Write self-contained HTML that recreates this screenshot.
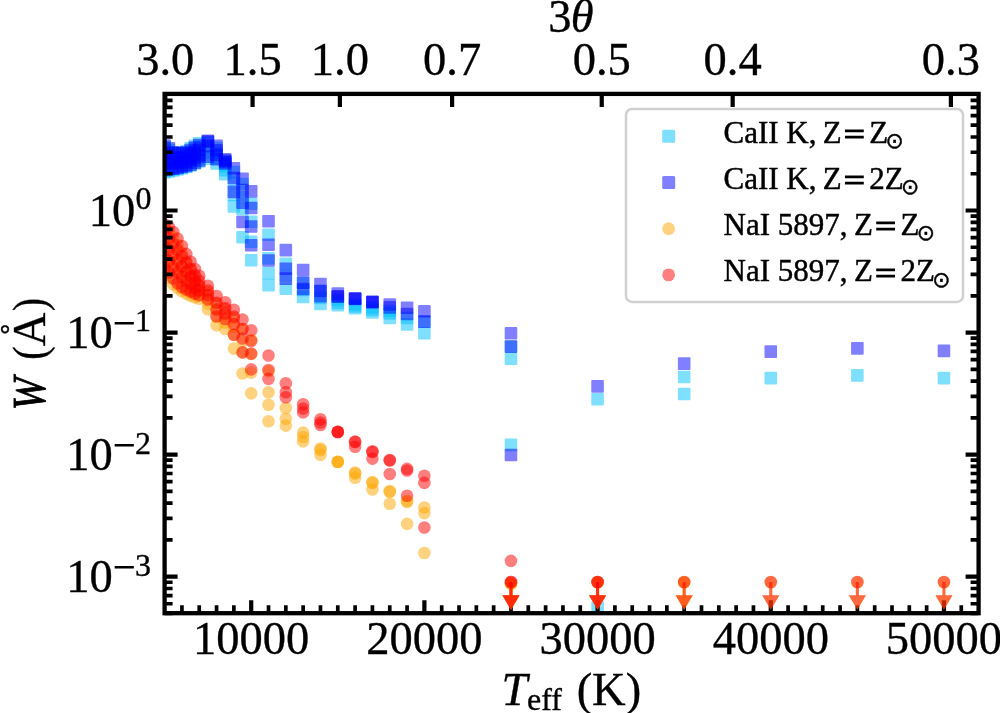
<!DOCTYPE html>
<html lang="en"><head><meta charset="utf-8"><title>Equivalent width vs effective temperature</title>
<style>html,body{margin:0;padding:0;background:#fff}body{width:1000px;height:713px;overflow:hidden}svg{display:block}</style>
</head><body>
<svg width="1000" height="713" viewBox="0 0 1000 713">
<rect x="0" y="0" width="1000" height="713" fill="#fff"/>
<defs><clipPath id="ax"><rect x="164.6" y="93.9" width="814" height="519.3"/></clipPath></defs>
<g clip-path="url(#ax)">
<g fill="rgb(0,191,255)" fill-opacity="0.5">
<rect x="158.3" y="140.7" width="12.6" height="12.6" rx="1"/>
<rect x="158.3" y="149.1" width="12.6" height="12.6" rx="1"/>
<rect x="158.3" y="157.5" width="12.6" height="12.6" rx="1"/>
<rect x="158.3" y="165.9" width="12.6" height="12.6" rx="1"/>
<rect x="162.63" y="143.7" width="12.6" height="12.6" rx="1"/>
<rect x="162.63" y="150.87" width="12.6" height="12.6" rx="1"/>
<rect x="162.63" y="158.03" width="12.6" height="12.6" rx="1"/>
<rect x="162.63" y="165.2" width="12.6" height="12.6" rx="1"/>
<rect x="166.96" y="146.7" width="12.6" height="12.6" rx="1"/>
<rect x="166.96" y="152.53" width="12.6" height="12.6" rx="1"/>
<rect x="166.96" y="158.37" width="12.6" height="12.6" rx="1"/>
<rect x="166.96" y="164.2" width="12.6" height="12.6" rx="1"/>
<rect x="171.29" y="147.2" width="12.6" height="12.6" rx="1"/>
<rect x="171.29" y="152.53" width="12.6" height="12.6" rx="1"/>
<rect x="171.29" y="157.87" width="12.6" height="12.6" rx="1"/>
<rect x="171.29" y="163.2" width="12.6" height="12.6" rx="1"/>
<rect x="175.62" y="146.7" width="12.6" height="12.6" rx="1"/>
<rect x="175.62" y="151.8" width="12.6" height="12.6" rx="1"/>
<rect x="175.62" y="156.9" width="12.6" height="12.6" rx="1"/>
<rect x="175.62" y="162" width="12.6" height="12.6" rx="1"/>
<rect x="179.95" y="145.1" width="12.6" height="12.6" rx="1"/>
<rect x="179.95" y="150.3" width="12.6" height="12.6" rx="1"/>
<rect x="179.95" y="155.5" width="12.6" height="12.6" rx="1"/>
<rect x="179.95" y="160.7" width="12.6" height="12.6" rx="1"/>
<rect x="184.28" y="142.1" width="12.6" height="12.6" rx="1"/>
<rect x="184.28" y="147.8" width="12.6" height="12.6" rx="1"/>
<rect x="184.28" y="153.5" width="12.6" height="12.6" rx="1"/>
<rect x="184.28" y="159.2" width="12.6" height="12.6" rx="1"/>
<rect x="188.61" y="139.6" width="12.6" height="12.6" rx="1"/>
<rect x="188.61" y="145.47" width="12.6" height="12.6" rx="1"/>
<rect x="188.61" y="151.33" width="12.6" height="12.6" rx="1"/>
<rect x="188.61" y="157.2" width="12.6" height="12.6" rx="1"/>
<rect x="192.94" y="137.1" width="12.6" height="12.6" rx="1"/>
<rect x="192.94" y="143.13" width="12.6" height="12.6" rx="1"/>
<rect x="192.94" y="149.17" width="12.6" height="12.6" rx="1"/>
<rect x="192.94" y="155.2" width="12.6" height="12.6" rx="1"/>
<rect x="201.6" y="135.7" width="12.6" height="12.6" rx="1"/>
<rect x="201.6" y="141.23" width="12.6" height="12.6" rx="1"/>
<rect x="201.6" y="146.77" width="12.6" height="12.6" rx="1"/>
<rect x="201.6" y="152.3" width="12.6" height="12.6" rx="1"/>
<rect x="210.26" y="141.7" width="12.6" height="12.6" rx="1"/>
<rect x="210.26" y="146.87" width="12.6" height="12.6" rx="1"/>
<rect x="210.26" y="152.03" width="12.6" height="12.6" rx="1"/>
<rect x="210.26" y="157.2" width="12.6" height="12.6" rx="1"/>
<rect x="218.92" y="155.7" width="12.6" height="12.6" rx="1"/>
<rect x="218.92" y="159.8" width="12.6" height="12.6" rx="1"/>
<rect x="218.92" y="163.9" width="12.6" height="12.6" rx="1"/>
<rect x="218.92" y="168" width="12.6" height="12.6" rx="1"/>
<rect x="227.58" y="165.7" width="12.6" height="12.6" rx="1"/>
<rect x="227.58" y="176.7" width="12.6" height="12.6" rx="1"/>
<rect x="227.58" y="188.7" width="12.6" height="12.6" rx="1"/>
<rect x="227.58" y="200.1" width="12.6" height="12.6" rx="1"/>
<rect x="236.24" y="177.7" width="12.6" height="12.6" rx="1"/>
<rect x="236.24" y="190.7" width="12.6" height="12.6" rx="1"/>
<rect x="236.24" y="202.9" width="12.6" height="12.6" rx="1"/>
<rect x="236.24" y="231" width="12.6" height="12.6" rx="1"/>
<rect x="244.9" y="197.4" width="12.6" height="12.6" rx="1"/>
<rect x="244.9" y="215.4" width="12.6" height="12.6" rx="1"/>
<rect x="244.9" y="235.5" width="12.6" height="12.6" rx="1"/>
<rect x="244.9" y="254" width="12.6" height="12.6" rx="1"/>
<rect x="262.21" y="228.4" width="12.6" height="12.6" rx="1"/>
<rect x="262.21" y="251.9" width="12.6" height="12.6" rx="1"/>
<rect x="262.21" y="266.8" width="12.6" height="12.6" rx="1"/>
<rect x="262.21" y="278.8" width="12.6" height="12.6" rx="1"/>
<rect x="279.53" y="257.6" width="12.6" height="12.6" rx="1"/>
<rect x="279.53" y="269.7" width="12.6" height="12.6" rx="1"/>
<rect x="279.53" y="282.4" width="12.6" height="12.6" rx="1"/>
<rect x="296.85" y="276.7" width="12.6" height="12.6" rx="1"/>
<rect x="296.85" y="283.7" width="12.6" height="12.6" rx="1"/>
<rect x="296.85" y="290.6" width="12.6" height="12.6" rx="1"/>
<rect x="314.17" y="284.7" width="12.6" height="12.6" rx="1"/>
<rect x="314.17" y="291.7" width="12.6" height="12.6" rx="1"/>
<rect x="314.17" y="297.6" width="12.6" height="12.6" rx="1"/>
<rect x="331.49" y="293.7" width="12.6" height="12.6" rx="1"/>
<rect x="331.49" y="296.7" width="12.6" height="12.6" rx="1"/>
<rect x="331.49" y="298.8" width="12.6" height="12.6" rx="1"/>
<rect x="348.81" y="298.2" width="12.6" height="12.6" rx="1"/>
<rect x="348.81" y="300.2" width="12.6" height="12.6" rx="1"/>
<rect x="348.81" y="302" width="12.6" height="12.6" rx="1"/>
<rect x="366.13" y="301.2" width="12.6" height="12.6" rx="1"/>
<rect x="366.13" y="303.7" width="12.6" height="12.6" rx="1"/>
<rect x="366.13" y="306.1" width="12.6" height="12.6" rx="1"/>
<rect x="383.45" y="304.7" width="12.6" height="12.6" rx="1"/>
<rect x="383.45" y="307.2" width="12.6" height="12.6" rx="1"/>
<rect x="383.45" y="311.6" width="12.6" height="12.6" rx="1"/>
<rect x="400.77" y="311.7" width="12.6" height="12.6" rx="1"/>
<rect x="400.77" y="318.1" width="12.6" height="12.6" rx="1"/>
<rect x="418.09" y="315.4" width="12.6" height="12.6" rx="1"/>
<rect x="418.09" y="327" width="12.6" height="12.6" rx="1"/>
<rect x="504.68" y="340.3" width="12.6" height="12.6" rx="1"/>
<rect x="504.68" y="352.5" width="12.6" height="12.6" rx="1"/>
<rect x="504.68" y="438.6" width="12.6" height="12.6" rx="1"/>
<rect x="591.28" y="392.9" width="12.6" height="12.6" rx="1"/>
<rect x="591.28" y="601.6" width="12.6" height="12.6" rx="1"/>
<rect x="677.87" y="370.7" width="12.6" height="12.6" rx="1"/>
<rect x="677.87" y="387.7" width="12.6" height="12.6" rx="1"/>
<rect x="764.47" y="371.8" width="12.6" height="12.6" rx="1"/>
<rect x="851.07" y="369.1" width="12.6" height="12.6" rx="1"/>
<rect x="937.66" y="371.8" width="12.6" height="12.6" rx="1"/>
</g>
<g fill="rgb(0,0,255)" fill-opacity="0.5">
<rect x="158.3" y="139.2" width="12.6" height="12.6" rx="1"/>
<rect x="158.3" y="147.13" width="12.6" height="12.6" rx="1"/>
<rect x="158.3" y="155.07" width="12.6" height="12.6" rx="1"/>
<rect x="158.3" y="163" width="12.6" height="12.6" rx="1"/>
<rect x="162.63" y="142.1" width="12.6" height="12.6" rx="1"/>
<rect x="162.63" y="148.97" width="12.6" height="12.6" rx="1"/>
<rect x="162.63" y="155.83" width="12.6" height="12.6" rx="1"/>
<rect x="162.63" y="162.7" width="12.6" height="12.6" rx="1"/>
<rect x="166.96" y="145.9" width="12.6" height="12.6" rx="1"/>
<rect x="166.96" y="151.37" width="12.6" height="12.6" rx="1"/>
<rect x="166.96" y="156.83" width="12.6" height="12.6" rx="1"/>
<rect x="166.96" y="162.3" width="12.6" height="12.6" rx="1"/>
<rect x="171.29" y="146.7" width="12.6" height="12.6" rx="1"/>
<rect x="171.29" y="151.7" width="12.6" height="12.6" rx="1"/>
<rect x="171.29" y="156.7" width="12.6" height="12.6" rx="1"/>
<rect x="171.29" y="161.7" width="12.6" height="12.6" rx="1"/>
<rect x="175.62" y="146.7" width="12.6" height="12.6" rx="1"/>
<rect x="175.62" y="151.37" width="12.6" height="12.6" rx="1"/>
<rect x="175.62" y="156.03" width="12.6" height="12.6" rx="1"/>
<rect x="175.62" y="160.7" width="12.6" height="12.6" rx="1"/>
<rect x="179.95" y="146.2" width="12.6" height="12.6" rx="1"/>
<rect x="179.95" y="150.7" width="12.6" height="12.6" rx="1"/>
<rect x="179.95" y="155.2" width="12.6" height="12.6" rx="1"/>
<rect x="179.95" y="159.7" width="12.6" height="12.6" rx="1"/>
<rect x="184.28" y="143.7" width="12.6" height="12.6" rx="1"/>
<rect x="184.28" y="148.57" width="12.6" height="12.6" rx="1"/>
<rect x="184.28" y="153.43" width="12.6" height="12.6" rx="1"/>
<rect x="184.28" y="158.3" width="12.6" height="12.6" rx="1"/>
<rect x="188.61" y="141.2" width="12.6" height="12.6" rx="1"/>
<rect x="188.61" y="146.23" width="12.6" height="12.6" rx="1"/>
<rect x="188.61" y="151.27" width="12.6" height="12.6" rx="1"/>
<rect x="188.61" y="156.3" width="12.6" height="12.6" rx="1"/>
<rect x="192.94" y="138.7" width="12.6" height="12.6" rx="1"/>
<rect x="192.94" y="143.83" width="12.6" height="12.6" rx="1"/>
<rect x="192.94" y="148.97" width="12.6" height="12.6" rx="1"/>
<rect x="192.94" y="154.1" width="12.6" height="12.6" rx="1"/>
<rect x="201.6" y="134.6" width="12.6" height="12.6" rx="1"/>
<rect x="201.6" y="135.2" width="12.6" height="12.6" rx="1"/>
<rect x="201.6" y="139.7" width="12.6" height="12.6" rx="1"/>
<rect x="201.6" y="150.4" width="12.6" height="12.6" rx="1"/>
<rect x="210.26" y="139.6" width="12.6" height="12.6" rx="1"/>
<rect x="210.26" y="144" width="12.6" height="12.6" rx="1"/>
<rect x="210.26" y="148.4" width="12.6" height="12.6" rx="1"/>
<rect x="210.26" y="152.8" width="12.6" height="12.6" rx="1"/>
<rect x="218.92" y="152.9" width="12.6" height="12.6" rx="1"/>
<rect x="218.92" y="154.33" width="12.6" height="12.6" rx="1"/>
<rect x="218.92" y="155.77" width="12.6" height="12.6" rx="1"/>
<rect x="218.92" y="157.2" width="12.6" height="12.6" rx="1"/>
<rect x="227.58" y="161.9" width="12.6" height="12.6" rx="1"/>
<rect x="227.58" y="171.7" width="12.6" height="12.6" rx="1"/>
<rect x="227.58" y="185.6" width="12.6" height="12.6" rx="1"/>
<rect x="236.24" y="172.5" width="12.6" height="12.6" rx="1"/>
<rect x="236.24" y="183.7" width="12.6" height="12.6" rx="1"/>
<rect x="236.24" y="196.3" width="12.6" height="12.6" rx="1"/>
<rect x="236.24" y="215.7" width="12.6" height="12.6" rx="1"/>
<rect x="244.9" y="185.1" width="12.6" height="12.6" rx="1"/>
<rect x="244.9" y="201.7" width="12.6" height="12.6" rx="1"/>
<rect x="244.9" y="220.2" width="12.6" height="12.6" rx="1"/>
<rect x="244.9" y="239" width="12.6" height="12.6" rx="1"/>
<rect x="262.21" y="215" width="12.6" height="12.6" rx="1"/>
<rect x="262.21" y="238.4" width="12.6" height="12.6" rx="1"/>
<rect x="262.21" y="254.2" width="12.6" height="12.6" rx="1"/>
<rect x="279.53" y="243.8" width="12.6" height="12.6" rx="1"/>
<rect x="279.53" y="262.5" width="12.6" height="12.6" rx="1"/>
<rect x="279.53" y="272.3" width="12.6" height="12.6" rx="1"/>
<rect x="296.85" y="263.7" width="12.6" height="12.6" rx="1"/>
<rect x="296.85" y="276.3" width="12.6" height="12.6" rx="1"/>
<rect x="296.85" y="282.7" width="12.6" height="12.6" rx="1"/>
<rect x="314.17" y="277.7" width="12.6" height="12.6" rx="1"/>
<rect x="314.17" y="284.7" width="12.6" height="12.6" rx="1"/>
<rect x="314.17" y="290" width="12.6" height="12.6" rx="1"/>
<rect x="331.49" y="287.2" width="12.6" height="12.6" rx="1"/>
<rect x="331.49" y="289.9" width="12.6" height="12.6" rx="1"/>
<rect x="331.49" y="290.5" width="12.6" height="12.6" rx="1"/>
<rect x="348.81" y="292" width="12.6" height="12.6" rx="1"/>
<rect x="348.81" y="292.5" width="12.6" height="12.6" rx="1"/>
<rect x="348.81" y="292.7" width="12.6" height="12.6" rx="1"/>
<rect x="366.13" y="295.4" width="12.6" height="12.6" rx="1"/>
<rect x="366.13" y="295.7" width="12.6" height="12.6" rx="1"/>
<rect x="366.13" y="296" width="12.6" height="12.6" rx="1"/>
<rect x="383.45" y="298.2" width="12.6" height="12.6" rx="1"/>
<rect x="383.45" y="301.1" width="12.6" height="12.6" rx="1"/>
<rect x="400.77" y="301.4" width="12.6" height="12.6" rx="1"/>
<rect x="400.77" y="307.7" width="12.6" height="12.6" rx="1"/>
<rect x="418.09" y="305" width="12.6" height="12.6" rx="1"/>
<rect x="418.09" y="315.3" width="12.6" height="12.6" rx="1"/>
<rect x="504.68" y="327" width="12.6" height="12.6" rx="1"/>
<rect x="504.68" y="340.3" width="12.6" height="12.6" rx="1"/>
<rect x="504.68" y="448.7" width="12.6" height="12.6" rx="1"/>
<rect x="591.28" y="380.1" width="12.6" height="12.6" rx="1"/>
<rect x="677.87" y="357.3" width="12.6" height="12.6" rx="1"/>
<rect x="764.47" y="345.3" width="12.6" height="12.6" rx="1"/>
<rect x="851.07" y="342.1" width="12.6" height="12.6" rx="1"/>
<rect x="937.66" y="344.6" width="12.6" height="12.6" rx="1"/>
</g>
<g fill="rgb(255,165,0)" fill-opacity="0.5">
<circle cx="164.6" cy="228.5" r="6.3"/>
<circle cx="164.6" cy="244" r="6.3"/>
<circle cx="164.6" cy="259.5" r="6.3"/>
<circle cx="164.6" cy="275" r="6.3"/>
<circle cx="168.93" cy="231.7" r="6.3"/>
<circle cx="168.93" cy="247.07" r="6.3"/>
<circle cx="168.93" cy="262.43" r="6.3"/>
<circle cx="168.93" cy="277.8" r="6.3"/>
<circle cx="173.26" cy="237.4" r="6.3"/>
<circle cx="173.26" cy="253.07" r="6.3"/>
<circle cx="173.26" cy="268.73" r="6.3"/>
<circle cx="173.26" cy="284.4" r="6.3"/>
<circle cx="177.59" cy="244.7" r="6.3"/>
<circle cx="177.59" cy="259.13" r="6.3"/>
<circle cx="177.59" cy="273.57" r="6.3"/>
<circle cx="177.59" cy="288" r="6.3"/>
<circle cx="181.92" cy="252.8" r="6.3"/>
<circle cx="181.92" cy="265.6" r="6.3"/>
<circle cx="181.92" cy="278.4" r="6.3"/>
<circle cx="181.92" cy="291.2" r="6.3"/>
<circle cx="186.25" cy="261.4" r="6.3"/>
<circle cx="186.25" cy="272.13" r="6.3"/>
<circle cx="186.25" cy="282.87" r="6.3"/>
<circle cx="186.25" cy="293.6" r="6.3"/>
<circle cx="190.58" cy="269.7" r="6.3"/>
<circle cx="190.58" cy="278.4" r="6.3"/>
<circle cx="190.58" cy="287.1" r="6.3"/>
<circle cx="190.58" cy="295.8" r="6.3"/>
<circle cx="194.91" cy="277.9" r="6.3"/>
<circle cx="194.91" cy="284.4" r="6.3"/>
<circle cx="194.91" cy="290.9" r="6.3"/>
<circle cx="194.91" cy="297.4" r="6.3"/>
<circle cx="199.24" cy="285.4" r="6.3"/>
<circle cx="199.24" cy="289.87" r="6.3"/>
<circle cx="199.24" cy="294.33" r="6.3"/>
<circle cx="199.24" cy="298.8" r="6.3"/>
<circle cx="207.9" cy="292" r="6.3"/>
<circle cx="207.9" cy="298" r="6.3"/>
<circle cx="207.9" cy="303.5" r="6.3"/>
<circle cx="207.9" cy="309.3" r="6.3"/>
<circle cx="216.56" cy="303" r="6.3"/>
<circle cx="216.56" cy="310" r="6.3"/>
<circle cx="216.56" cy="317" r="6.3"/>
<circle cx="216.56" cy="325.2" r="6.3"/>
<circle cx="225.22" cy="309" r="6.3"/>
<circle cx="225.22" cy="316" r="6.3"/>
<circle cx="225.22" cy="322.5" r="6.3"/>
<circle cx="225.22" cy="329" r="6.3"/>
<circle cx="233.88" cy="318" r="6.3"/>
<circle cx="233.88" cy="327" r="6.3"/>
<circle cx="233.88" cy="334.7" r="6.3"/>
<circle cx="233.88" cy="348.6" r="6.3"/>
<circle cx="242.54" cy="329" r="6.3"/>
<circle cx="242.54" cy="341" r="6.3"/>
<circle cx="242.54" cy="352.4" r="6.3"/>
<circle cx="242.54" cy="373.5" r="6.3"/>
<circle cx="251.2" cy="340" r="6.3"/>
<circle cx="251.2" cy="354" r="6.3"/>
<circle cx="251.2" cy="372.6" r="6.3"/>
<circle cx="251.2" cy="393.4" r="6.3"/>
<circle cx="268.51" cy="371.4" r="6.3"/>
<circle cx="268.51" cy="392.2" r="6.3"/>
<circle cx="268.51" cy="404.8" r="6.3"/>
<circle cx="268.51" cy="421.2" r="6.3"/>
<circle cx="285.83" cy="408" r="6.3"/>
<circle cx="285.83" cy="418.7" r="6.3"/>
<circle cx="285.83" cy="425.6" r="6.3"/>
<circle cx="303.15" cy="432.6" r="6.3"/>
<circle cx="303.15" cy="437" r="6.3"/>
<circle cx="303.15" cy="441.4" r="6.3"/>
<circle cx="320.47" cy="448.5" r="6.3"/>
<circle cx="320.47" cy="450" r="6.3"/>
<circle cx="320.47" cy="454.9" r="6.3"/>
<circle cx="337.79" cy="461.8" r="6.3"/>
<circle cx="337.79" cy="461.8" r="6.3"/>
<circle cx="337.79" cy="462" r="6.3"/>
<circle cx="355.11" cy="472.6" r="6.3"/>
<circle cx="355.11" cy="473.5" r="6.3"/>
<circle cx="355.11" cy="477.7" r="6.3"/>
<circle cx="372.43" cy="482.1" r="6.3"/>
<circle cx="372.43" cy="483" r="6.3"/>
<circle cx="372.43" cy="489.5" r="6.3"/>
<circle cx="389.75" cy="491" r="6.3"/>
<circle cx="389.75" cy="492" r="6.3"/>
<circle cx="389.75" cy="503.8" r="6.3"/>
<circle cx="407.07" cy="500.8" r="6.3"/>
<circle cx="407.07" cy="502" r="6.3"/>
<circle cx="407.07" cy="523.9" r="6.3"/>
<circle cx="424.39" cy="507.5" r="6.3"/>
<circle cx="424.39" cy="513.1" r="6.3"/>
<circle cx="424.39" cy="553" r="6.3"/>
</g>
<g fill="rgb(255,0,0)" fill-opacity="0.5">
<circle cx="164.6" cy="224.5" r="6.3"/>
<circle cx="164.6" cy="235.5" r="6.3"/>
<circle cx="164.6" cy="246.5" r="6.3"/>
<circle cx="164.6" cy="257.5" r="6.3"/>
<circle cx="164.6" cy="268.5" r="6.3"/>
<circle cx="168.93" cy="227" r="6.3"/>
<circle cx="168.93" cy="238.38" r="6.3"/>
<circle cx="168.93" cy="249.75" r="6.3"/>
<circle cx="168.93" cy="261.12" r="6.3"/>
<circle cx="168.93" cy="272.5" r="6.3"/>
<circle cx="173.26" cy="232" r="6.3"/>
<circle cx="173.26" cy="243.62" r="6.3"/>
<circle cx="173.26" cy="255.25" r="6.3"/>
<circle cx="173.26" cy="266.88" r="6.3"/>
<circle cx="173.26" cy="278.5" r="6.3"/>
<circle cx="177.59" cy="238.6" r="6.3"/>
<circle cx="177.59" cy="249.75" r="6.3"/>
<circle cx="177.59" cy="260.9" r="6.3"/>
<circle cx="177.59" cy="272.05" r="6.3"/>
<circle cx="177.59" cy="283.2" r="6.3"/>
<circle cx="181.92" cy="246" r="6.3"/>
<circle cx="181.92" cy="256.25" r="6.3"/>
<circle cx="181.92" cy="266.5" r="6.3"/>
<circle cx="181.92" cy="276.75" r="6.3"/>
<circle cx="181.92" cy="287" r="6.3"/>
<circle cx="186.25" cy="253.9" r="6.3"/>
<circle cx="186.25" cy="262.8" r="6.3"/>
<circle cx="186.25" cy="271.7" r="6.3"/>
<circle cx="186.25" cy="280.6" r="6.3"/>
<circle cx="186.25" cy="289.5" r="6.3"/>
<circle cx="190.58" cy="261.5" r="6.3"/>
<circle cx="190.58" cy="269.02" r="6.3"/>
<circle cx="190.58" cy="276.55" r="6.3"/>
<circle cx="190.58" cy="284.08" r="6.3"/>
<circle cx="190.58" cy="291.6" r="6.3"/>
<circle cx="194.91" cy="269" r="6.3"/>
<circle cx="194.91" cy="275.15" r="6.3"/>
<circle cx="194.91" cy="281.3" r="6.3"/>
<circle cx="194.91" cy="287.45" r="6.3"/>
<circle cx="194.91" cy="293.6" r="6.3"/>
<circle cx="199.24" cy="275.8" r="6.3"/>
<circle cx="199.24" cy="280.7" r="6.3"/>
<circle cx="199.24" cy="285.6" r="6.3"/>
<circle cx="199.24" cy="290.5" r="6.3"/>
<circle cx="199.24" cy="295.4" r="6.3"/>
<circle cx="207.9" cy="285.8" r="6.3"/>
<circle cx="207.9" cy="290.5" r="6.3"/>
<circle cx="207.9" cy="295" r="6.3"/>
<circle cx="207.9" cy="299.5" r="6.3"/>
<circle cx="216.56" cy="296" r="6.3"/>
<circle cx="216.56" cy="302.7" r="6.3"/>
<circle cx="216.56" cy="309.4" r="6.3"/>
<circle cx="216.56" cy="316.2" r="6.3"/>
<circle cx="225.22" cy="302.3" r="6.3"/>
<circle cx="225.22" cy="308" r="6.3"/>
<circle cx="225.22" cy="313.5" r="6.3"/>
<circle cx="225.22" cy="319" r="6.3"/>
<circle cx="233.88" cy="309.7" r="6.3"/>
<circle cx="233.88" cy="316.5" r="6.3"/>
<circle cx="233.88" cy="324" r="6.3"/>
<circle cx="233.88" cy="334.7" r="6.3"/>
<circle cx="242.54" cy="319.6" r="6.3"/>
<circle cx="242.54" cy="329" r="6.3"/>
<circle cx="242.54" cy="338.5" r="6.3"/>
<circle cx="242.54" cy="352.4" r="6.3"/>
<circle cx="251.2" cy="330.3" r="6.3"/>
<circle cx="251.2" cy="341" r="6.3"/>
<circle cx="251.2" cy="353.6" r="6.3"/>
<circle cx="251.2" cy="369.4" r="6.3"/>
<circle cx="268.51" cy="355.5" r="6.3"/>
<circle cx="268.51" cy="370" r="6.3"/>
<circle cx="268.51" cy="378.9" r="6.3"/>
<circle cx="285.83" cy="383.3" r="6.3"/>
<circle cx="285.83" cy="392.2" r="6.3"/>
<circle cx="285.83" cy="397.2" r="6.3"/>
<circle cx="303.15" cy="404.2" r="6.3"/>
<circle cx="303.15" cy="408.6" r="6.3"/>
<circle cx="303.15" cy="412.4" r="6.3"/>
<circle cx="320.47" cy="419.3" r="6.3"/>
<circle cx="320.47" cy="422.5" r="6.3"/>
<circle cx="320.47" cy="425" r="6.3"/>
<circle cx="337.79" cy="431.8" r="6.3"/>
<circle cx="337.79" cy="431.8" r="6.3"/>
<circle cx="337.79" cy="432.3" r="6.3"/>
<circle cx="355.11" cy="441.6" r="6.3"/>
<circle cx="355.11" cy="442" r="6.3"/>
<circle cx="355.11" cy="446.8" r="6.3"/>
<circle cx="372.43" cy="451.2" r="6.3"/>
<circle cx="372.43" cy="452" r="6.3"/>
<circle cx="372.43" cy="458.6" r="6.3"/>
<circle cx="389.75" cy="460" r="6.3"/>
<circle cx="389.75" cy="460.5" r="6.3"/>
<circle cx="389.75" cy="474" r="6.3"/>
<circle cx="407.07" cy="468.9" r="6.3"/>
<circle cx="407.07" cy="470.5" r="6.3"/>
<circle cx="407.07" cy="495.8" r="6.3"/>
<circle cx="424.39" cy="475.8" r="6.3"/>
<circle cx="424.39" cy="482.9" r="6.3"/>
<circle cx="424.39" cy="527.5" r="6.3"/>
<circle cx="510.98" cy="560.9" r="6.3"/>
</g>
</g>
<g stroke="#000" fill="none">
<path stroke-width="4.2" d="M251.2 613.2V600.2M424.39 613.2V600.2M597.58 613.2V600.2M770.77 613.2V600.2M943.96 613.2V600.2M165.29 93.9V106.9M252.58 93.9V106.9M339.87 93.9V106.9M452.1 93.9V106.9M601.74 93.9V106.9M732.67 93.9V106.9M950.89 93.9V106.9M164.6 576.65H177.6M978.6 576.65H965.6M164.6 454.6H177.6M978.6 454.6H965.6M164.6 332.55H177.6M978.6 332.55H965.6M164.6 210.5H177.6M978.6 210.5H965.6"/>
<path stroke-width="3.7" d="M181.92 613.2V605.2M199.24 613.2V605.2M216.56 613.2V605.2M233.88 613.2V605.2M268.51 613.2V605.2M285.83 613.2V605.2M303.15 613.2V605.2M320.47 613.2V605.2M337.79 613.2V605.2M355.11 613.2V605.2M372.43 613.2V605.2M389.75 613.2V605.2M407.07 613.2V605.2M441.71 613.2V605.2M459.03 613.2V605.2M476.34 613.2V605.2M493.66 613.2V605.2M510.98 613.2V605.2M528.3 613.2V605.2M545.62 613.2V605.2M562.94 613.2V605.2M580.26 613.2V605.2M614.9 613.2V605.2M632.22 613.2V605.2M649.54 613.2V605.2M666.86 613.2V605.2M684.17 613.2V605.2M701.49 613.2V605.2M718.81 613.2V605.2M736.13 613.2V605.2M753.45 613.2V605.2M788.09 613.2V605.2M805.41 613.2V605.2M822.73 613.2V605.2M840.05 613.2V605.2M857.37 613.2V605.2M874.69 613.2V605.2M892 613.2V605.2M909.32 613.2V605.2M926.64 613.2V605.2M961.28 613.2V605.2M164.6 613.39H172.6M978.6 613.39H970.6M164.6 603.73H172.6M978.6 603.73H970.6M164.6 595.56H172.6M978.6 595.56H970.6M164.6 588.48H172.6M978.6 588.48H970.6M164.6 582.23H172.6M978.6 582.23H970.6M164.6 539.91H172.6M978.6 539.91H970.6M164.6 518.42H172.6M978.6 518.42H970.6M164.6 503.17H172.6M978.6 503.17H970.6M164.6 491.34H172.6M978.6 491.34H970.6M164.6 481.68H172.6M978.6 481.68H970.6M164.6 473.51H172.6M978.6 473.51H970.6M164.6 466.43H172.6M978.6 466.43H970.6M164.6 460.18H172.6M978.6 460.18H970.6M164.6 417.86H172.6M978.6 417.86H970.6M164.6 396.37H172.6M978.6 396.37H970.6M164.6 381.12H172.6M978.6 381.12H970.6M164.6 369.29H172.6M978.6 369.29H970.6M164.6 359.63H172.6M978.6 359.63H970.6M164.6 351.46H172.6M978.6 351.46H970.6M164.6 344.38H172.6M978.6 344.38H970.6M164.6 338.13H172.6M978.6 338.13H970.6M164.6 295.81H172.6M978.6 295.81H970.6M164.6 274.32H172.6M978.6 274.32H970.6M164.6 259.07H172.6M978.6 259.07H970.6M164.6 247.24H172.6M978.6 247.24H970.6M164.6 237.58H172.6M978.6 237.58H970.6M164.6 229.41H172.6M978.6 229.41H970.6M164.6 222.33H172.6M978.6 222.33H970.6M164.6 216.08H172.6M978.6 216.08H970.6M164.6 173.76H172.6M978.6 173.76H970.6M164.6 152.27H172.6M978.6 152.27H970.6M164.6 137.02H172.6M978.6 137.02H970.6M164.6 125.19H172.6M978.6 125.19H970.6M164.6 115.53H172.6M978.6 115.53H970.6M164.6 107.36H172.6M978.6 107.36H970.6M164.6 100.28H172.6M978.6 100.28H970.6M164.6 94.03H172.6M978.6 94.03H970.6"/>
</g>
<g clip-path="url(#ax)">
<g fill="rgb(255,165,0)" fill-opacity="0.5" stroke="none"><circle cx="510.98" cy="583.5" r="6.3"/><rect x="509.48" y="583.5" width="3" height="12"/><path d="M502.38 595.2H519.58L510.98 609.8Z"/></g>
<g fill="rgb(255,165,0)" fill-opacity="0.5" stroke="none"><circle cx="510.98" cy="583.5" r="6.3"/><rect x="509.48" y="583.5" width="3" height="12"/><path d="M502.38 595.2H519.58L510.98 609.8Z"/></g>
<g fill="rgb(255,165,0)" fill-opacity="0.5" stroke="none"><circle cx="510.98" cy="583.5" r="6.3"/><rect x="509.48" y="583.5" width="3" height="12"/><path d="M502.38 595.2H519.58L510.98 609.8Z"/></g>
<g fill="rgb(255,0,0)" fill-opacity="0.5" stroke="none"><circle cx="510.98" cy="582" r="6.3"/><rect x="509.48" y="582" width="3" height="13.5"/><path d="M502.38 595.2H519.58L510.98 609.8Z"/></g>
<g fill="rgb(255,0,0)" fill-opacity="0.5" stroke="none"><circle cx="510.98" cy="582" r="6.3"/><rect x="509.48" y="582" width="3" height="13.5"/><path d="M502.38 595.2H519.58L510.98 609.8Z"/></g>
<g fill="rgb(255,165,0)" fill-opacity="0.5" stroke="none"><circle cx="597.58" cy="582.3" r="6.3"/><rect x="596.08" y="582.3" width="3" height="13.2"/><path d="M588.98 595.2H606.18L597.58 609.8Z"/></g>
<g fill="rgb(255,165,0)" fill-opacity="0.5" stroke="none"><circle cx="597.58" cy="582.3" r="6.3"/><rect x="596.08" y="582.3" width="3" height="13.2"/><path d="M588.98 595.2H606.18L597.58 609.8Z"/></g>
<g fill="rgb(255,0,0)" fill-opacity="0.5" stroke="none"><circle cx="597.58" cy="582" r="6.3"/><rect x="596.08" y="582" width="3" height="13.5"/><path d="M588.98 595.2H606.18L597.58 609.8Z"/></g>
<g fill="rgb(255,0,0)" fill-opacity="0.5" stroke="none"><circle cx="597.58" cy="582" r="6.3"/><rect x="596.08" y="582" width="3" height="13.5"/><path d="M588.98 595.2H606.18L597.58 609.8Z"/></g>
<g fill="rgb(255,165,0)" fill-opacity="0.5" stroke="none"><circle cx="684.17" cy="582.3" r="6.3"/><rect x="682.67" y="582.3" width="3" height="13.2"/><path d="M675.57 595.2H692.77L684.17 609.8Z"/></g>
<g fill="rgb(255,165,0)" fill-opacity="0.5" stroke="none"><circle cx="684.17" cy="582.3" r="6.3"/><rect x="682.67" y="582.3" width="3" height="13.2"/><path d="M675.57 595.2H692.77L684.17 609.8Z"/></g>
<g fill="rgb(255,0,0)" fill-opacity="0.5" stroke="none"><circle cx="684.17" cy="582" r="6.3"/><rect x="682.67" y="582" width="3" height="13.5"/><path d="M675.57 595.2H692.77L684.17 609.8Z"/></g>
<g fill="rgb(255,165,0)" fill-opacity="0.5" stroke="none"><circle cx="770.77" cy="582.3" r="6.3"/><rect x="769.27" y="582.3" width="3" height="13.2"/><path d="M762.17 595.2H779.37L770.77 609.8Z"/></g>
<g fill="rgb(255,0,0)" fill-opacity="0.5" stroke="none"><circle cx="770.77" cy="582" r="6.3"/><rect x="769.27" y="582" width="3" height="13.5"/><path d="M762.17 595.2H779.37L770.77 609.8Z"/></g>
<g fill="rgb(255,165,0)" fill-opacity="0.5" stroke="none"><circle cx="857.37" cy="582.3" r="6.3"/><rect x="855.87" y="582.3" width="3" height="13.2"/><path d="M848.77 595.2H865.97L857.37 609.8Z"/></g>
<g fill="rgb(255,0,0)" fill-opacity="0.5" stroke="none"><circle cx="857.37" cy="582" r="6.3"/><rect x="855.87" y="582" width="3" height="13.5"/><path d="M848.77 595.2H865.97L857.37 609.8Z"/></g>
<g fill="rgb(255,165,0)" fill-opacity="0.5" stroke="none"><circle cx="943.96" cy="582.3" r="6.3"/><rect x="942.46" y="582.3" width="3" height="13.2"/><path d="M935.36 595.2H952.56L943.96 609.8Z"/></g>
<g fill="rgb(255,0,0)" fill-opacity="0.5" stroke="none"><circle cx="943.96" cy="582" r="6.3"/><rect x="942.46" y="582" width="3" height="13.5"/><path d="M935.36 595.2H952.56L943.96 609.8Z"/></g>
</g>
<rect x="164.6" y="93.9" width="814" height="519.3" fill="none" stroke="#000" stroke-width="4.3"/>
<rect x="626" y="109" width="337" height="192.9" rx="6" ry="6" fill="#fff" fill-opacity="0.8" stroke="#d0d0d0" stroke-width="2.5"/>
<rect x="662.2" y="129.8" width="13" height="13" rx="1.5" fill="rgb(0,191,255)" fill-opacity="0.5"/>
<rect x="662.2" y="176" width="13" height="13" rx="1.5" fill="rgb(0,0,255)" fill-opacity="0.5"/>
<circle cx="668.6" cy="228.7" r="6.4" fill="rgb(255,165,0)" fill-opacity="0.5"/>
<circle cx="668.6" cy="274.9" r="6.4" fill="rgb(255,0,0)" fill-opacity="0.5"/>
<g font-family="'Liberation Serif', 'DejaVu Serif', serif" font-size="31" fill="#000" stroke="#000" stroke-width="0.45">
<text y="142.5" xml:space="preserve"><tspan x="723.5">CaII K, </tspan><tspan x="822.7">Z</tspan><tspan x="843.8" dy="2.4" textLength="21.2" lengthAdjust="spacingAndGlyphs" stroke-width="1.1">=</tspan><tspan x="869.2" dy="-2.4">Z</tspan><tspan x="885.5" dy="5.4" font-family="'DejaVu Sans', sans-serif" font-size="21.8">⊙</tspan></text>
<text y="188.7" xml:space="preserve"><tspan x="723.5">CaII K, </tspan><tspan x="822.7">Z</tspan><tspan x="843.8" dy="2.4" textLength="21.2" lengthAdjust="spacingAndGlyphs" stroke-width="1.1">=</tspan><tspan x="869.2" dy="-2.4">2Z</tspan><tspan x="901" dy="5.4" font-family="'DejaVu Sans', sans-serif" font-size="21.8">⊙</tspan></text>
<text y="234.9" xml:space="preserve"><tspan x="723.5">NaI 5897, </tspan><tspan x="854">Z</tspan><tspan x="875.1" dy="2.4" textLength="21.2" lengthAdjust="spacingAndGlyphs" stroke-width="1.1">=</tspan><tspan x="900.5" dy="-2.4">Z</tspan><tspan x="916.8" dy="5.4" font-family="'DejaVu Sans', sans-serif" font-size="21.8">⊙</tspan></text>
<text y="281.1" xml:space="preserve"><tspan x="723.5">NaI 5897, </tspan><tspan x="854">Z</tspan><tspan x="875.1" dy="2.4" textLength="21.2" lengthAdjust="spacingAndGlyphs" stroke-width="1.1">=</tspan><tspan x="900.5" dy="-2.4">2Z</tspan><tspan x="932.3" dy="5.4" font-family="'DejaVu Sans', sans-serif" font-size="21.8">⊙</tspan></text>
</g>
<g font-family="'Liberation Serif', 'DejaVu Serif', serif" font-size="46.5" fill="#000" stroke="#000" stroke-width="0.35">
<text x="251.2" y="654" text-anchor="middle">10000</text>
<text x="424.39" y="654" text-anchor="middle">20000</text>
<text x="597.58" y="654" text-anchor="middle">30000</text>
<text x="770.77" y="654" text-anchor="middle">40000</text>
<text x="943.96" y="654" text-anchor="middle">50000</text>
<text x="165.29" y="75.4" text-anchor="middle">3.0</text>
<text x="252.58" y="75.4" text-anchor="middle">1.5</text>
<text x="339.87" y="75.4" text-anchor="middle">1.0</text>
<text x="452.1" y="75.4" text-anchor="middle">0.7</text>
<text x="601.74" y="75.4" text-anchor="middle">0.5</text>
<text x="732.67" y="75.4" text-anchor="middle">0.4</text>
<text x="950.89" y="75.4" text-anchor="middle">0.3</text>
<text y="226.2"><tspan x="88.8">10</tspan><tspan x="135.4" dy="-16.8" font-size="32">0</tspan></text>
<text y="348.25"><tspan x="66.2">10</tspan><tspan x="113" dy="-14.5" font-size="32" textLength="21.9" lengthAdjust="spacingAndGlyphs" stroke-width="0.9">−</tspan><tspan x="134.9" dy="-2.3" font-size="32">1</tspan></text>
<text y="470.3"><tspan x="66.2">10</tspan><tspan x="113" dy="-14.5" font-size="32" textLength="21.9" lengthAdjust="spacingAndGlyphs" stroke-width="0.9">−</tspan><tspan x="134.9" dy="-2.3" font-size="32">2</tspan></text>
<text y="592.35"><tspan x="66.2">10</tspan><tspan x="113" dy="-14.5" font-size="32" textLength="21.9" lengthAdjust="spacingAndGlyphs" stroke-width="0.9">−</tspan><tspan x="134.9" dy="-2.3" font-size="32">3</tspan></text>
<text y="31.6"><tspan x="548.2">3</tspan><tspan x="570.8" font-style="italic">θ</tspan></text>
<text y="705.3" xml:space="preserve"><tspan x="501.5" font-style="italic">T</tspan><tspan x="527" dy="5" font-size="32">eff</tspan><tspan x="565" dy="-5"> (K)</tspan></text>
<text transform="translate(44.7 0) rotate(-90)" y="0" xml:space="preserve"><tspan x="-410.2" font-style="italic" textLength="33.05" lengthAdjust="spacingAndGlyphs" stroke-width="0.9">W</tspan><tspan x="-369.8" textLength="23.3" lengthAdjust="spacingAndGlyphs"> (</tspan><tspan x="-346.3">A</tspan><tspan x="-336" dy="-14.5" font-size="41">˚</tspan><tspan x="-311.1" dy="14.5" textLength="13" lengthAdjust="spacingAndGlyphs">)</tspan></text>
</g>
</svg>
</body></html>
